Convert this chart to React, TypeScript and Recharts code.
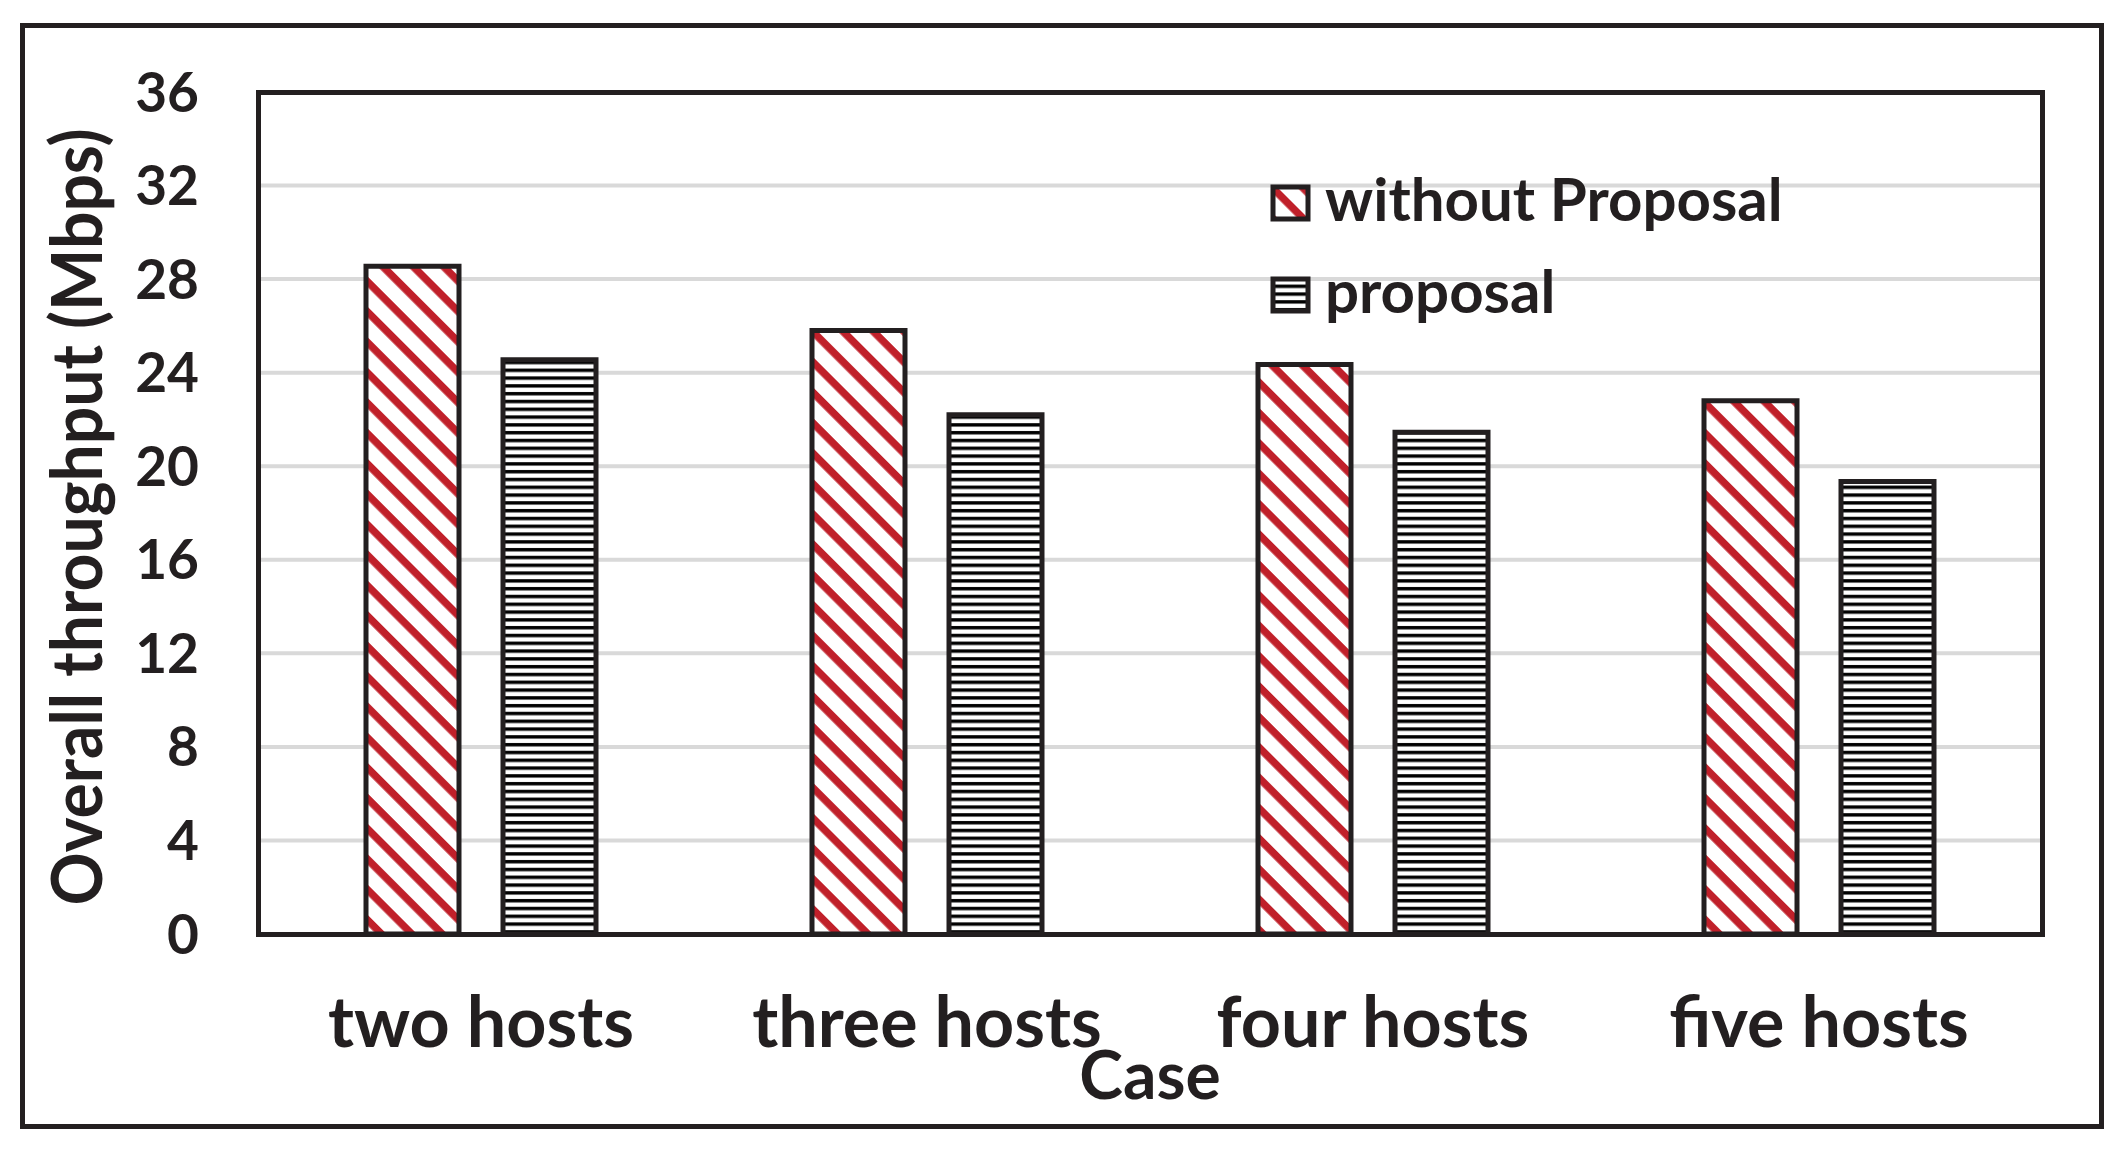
import React from 'react';
import { BarChart, Bar, XAxis, YAxis, CartesianGrid } from 'recharts';

const categories = ['two hosts', 'three hosts', 'four hosts', 'five hosts'];
const withoutProposal = [28.55, 25.8, 24.35, 22.8];
const proposal = [24.55, 22.2, 21.45, 19.35];
const yTicks = [0, 4, 8, 12, 16, 20, 24, 28, 32, 36];
const seriesNames = ['without Proposal', 'proposal'];

const data = categories.map((c, i) => ({ name: c, without: withoutProposal[i], proposal: proposal[i] }));

const DARK = '#231f20';
const RED = '#c0202a';
const FONT = 'Lato, "Open Sans", sans-serif';

const W = 2124;
const H = 1157;
const M = { top: 92, right: 82, bottom: 73, left: 108 };
const YW = 150;
const XH = 150;

function Patterns({ prefix }: { prefix: string }) {
  return (
    <defs>
      <pattern id={`${prefix}red`} patternUnits="userSpaceOnUse" width={21.5} height={21.5} patternTransform="rotate(45)">
        <rect x={0} y={0} width={21.5} height={21.5} fill="#ffffff" />
        <rect x={0} y={0} width={21.5} height={7.5} fill={RED} />
      </pattern>
      <pattern id={`${prefix}blk`} patternUnits="userSpaceOnUse" width={10} height={7.8}>
        <rect x={0} y={0} width={10} height={7.8} fill="#ffffff" />
        <rect x={0} y={2} width={10} height={3.4} fill="#000000" />
      </pattern>
    </defs>
  );
}

function LegendBox() {
  const fills = ['url(#lg-red)', 'url(#lg-blk)'];
  return (
    <svg width={700} height={180} style={{ position: 'absolute', left: 1265, top: 175, overflow: 'visible' }}>
      <Patterns prefix="lg-" />
      {seriesNames.map((n, i) => (
        <g key={n} transform={`translate(0, ${i * 92})`}>
          <rect x={8} y={12} width={35} height={32} fill={fills[i]} stroke={DARK} strokeWidth={5} />
          <text x={60} y={46} fontFamily={FONT} fontWeight={700} fontSize={60} fill={DARK}>{n}</text>
        </g>
      ))}
    </svg>
  );
}

const YTitle = (props: any) => {
  const vb = props.viewBox || {};
  const cx = vb.x - 6;
  const cy = vb.y + vb.height / 2 + 4;
  return (
    <text
      x={cx}
      y={cy}
      transform={`rotate(-90, ${cx}, ${cy})`}
      textAnchor="middle"
      fontFamily={FONT}
      fontWeight={700}
      fontSize={70}
      fill={DARK}
      textLength={777}
      lengthAdjust="spacingAndGlyphs"
    >
      Overall throughput (Mbps)
    </text>
  );
};

const XTitle = (props: any) => {
  const vb = props.viewBox || {};
  return (
    <text
      x={vb.x + vb.width / 2}
      y={vb.y + 165}
      textAnchor="middle"
      fontFamily={FONT}
      fontWeight={700}
      fontSize={66}
      fill={DARK}
    >
      Case
    </text>
  );
};

export default function App() {
  const plotW = W - M.left - YW - M.right;
  const plotH = H - M.top - M.bottom - XH;
  const plotX = M.left + YW;
  const plotY = M.top;
  return (
    <div style={{ position: 'absolute', left: 0, top: 0, width: W, height: H, background: '#ffffff' }}>
      <BarChart width={W} height={H} data={data} margin={M} barSize={93} barGap={44}>
        <Patterns prefix="ch-" />
        <CartesianGrid vertical={false} stroke="#d9d9d9" strokeWidth={4} />
        <XAxis
          dataKey="name"
          height={XH}
          axisLine={false}
          tickLine={false}
          tickSize={0}
          tickMargin={63}
          tick={{ fontSize: 70, fontWeight: 700, fill: DARK, fontFamily: FONT }}
          label={{ content: XTitle }}
        />
        <YAxis
          width={YW}
          domain={[0, 36]}
          ticks={yTicks}
          interval={0}
          axisLine={false}
          tickLine={false}
          tickSize={0}
          tickMargin={59}
          tick={{ fontSize: 55, fontWeight: 700, fill: DARK, fontFamily: FONT }}
          label={{ content: YTitle }}
        />
        <Bar dataKey="without" name={seriesNames[0]} fill="url(#ch-red)" stroke={DARK} strokeWidth={5} isAnimationActive={false} />
        <Bar dataKey="proposal" name={seriesNames[1]} fill="url(#ch-blk)" stroke={DARK} strokeWidth={5} isAnimationActive={false} />
      </BarChart>
      <div
        style={{
          position: 'absolute',
          left: plotX - 2.5,
          top: plotY - 2.5,
          width: plotW + 5,
          height: plotH + 5,
          border: `5px solid ${DARK}`,
          boxSizing: 'border-box',
          pointerEvents: 'none',
        }}
      />
      <div
        style={{
          position: 'absolute',
          left: 20,
          top: 23,
          width: 2104 - 20,
          height: 1129 - 23,
          border: `5px solid ${DARK}`,
          boxSizing: 'border-box',
          pointerEvents: 'none',
        }}
      />
      <LegendBox />
    </div>
  );
}
